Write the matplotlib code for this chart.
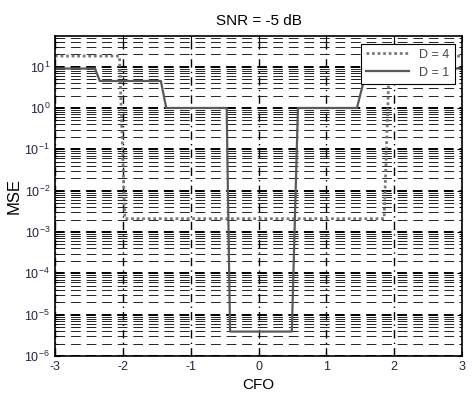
import numpy as np
import matplotlib
matplotlib.use("Agg")
import matplotlib.pyplot as plt
from matplotlib.ticker import LogLocator, NullFormatter

plt.rcParams['font.family'] = ['Liberation Sans', 'DejaVu Sans']

# step curves
cfo_d4 = [-3.0, -2.05, -1.97, 1.85, 1.93, 3.0]
mse_d4 = [18.0, 18.0, 2.1e-3, 2.1e-3, 18.0, 18.0]

cfo_d1 = [-3.0, -2.41, -2.34, -1.44, -1.36, -0.47, -0.42, 0.49, 0.58, 1.45, 1.55, 2.34, 2.41, 3.0]
mse_d1 = [9.0, 9.0, 4.5, 4.5, 1.0, 1.0, 3.9e-6, 3.9e-6, 1.0, 1.0, 4.5, 4.5, 9.0, 9.0]

xticks = [-3, -2, -1, 0, 1, 2, 3]

fig = plt.figure(figsize=(4.74, 4.05), dpi=100)
ax = fig.add_axes([0.116, 0.121, 0.859, 0.790])

ax.plot(cfo_d4, mse_d4, linestyle=(0, (1, 1)), color='#7a7a7a', linewidth=2.0, label='D = 4')
ax.plot(cfo_d1, mse_d1, linestyle='-', color='#5a5a5a', linewidth=1.6, label='D = 1')

ax.set_yscale('log')
ax.set_xlim(-3, 3)
ax.set_ylim(1e-6, 55)
ax.set_xticks(xticks)
ax.set_xticklabels([str(t) for t in xticks])
ax.yaxis.set_major_locator(LogLocator(base=10, numticks=10))
ax.yaxis.set_minor_locator(LogLocator(base=10, subs=np.arange(2, 10), numticks=20))
ax.yaxis.set_minor_formatter(NullFormatter())

ax.grid(True, which='major', axis='y', linestyle=(0, (5, 3)), color='black', linewidth=1.4)
ax.grid(True, which='minor', axis='y', linestyle=(0, (10, 6)), color='#222222', linewidth=0.7)
ax.grid(True, which='major', axis='x', linestyle=(0, (6, 3, 1, 3)), color='black', linewidth=1.0)

ax.tick_params(which='both', direction='in', top=True, right=True, labelsize=9, colors='black')
ax.tick_params(axis='both', labelcolor='#2a2340')
for s in ax.spines.values():
    s.set_linewidth(1.2)

ax.set_title('SNR = -5 dB', fontsize=11, pad=8)
ax.set_xlabel('CFO', fontsize=11)
ax.set_ylabel('MSE', fontsize=12, labelpad=2)

leg = ax.legend(loc='upper right', fontsize=9, frameon=True, fancybox=False,
                edgecolor='black', framealpha=1, handlelength=3.5, borderaxespad=0.6,
                markerfirst=True)
leg.get_frame().set_linewidth(0.8)
for t in leg.get_texts():
    t.set_color('#444444')

fig.savefig('out.png', dpi=100)
